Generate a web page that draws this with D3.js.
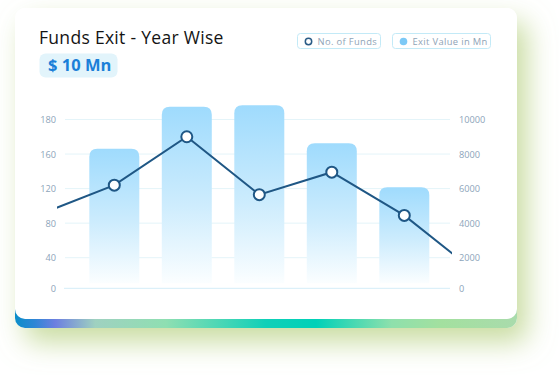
<!DOCTYPE html>
<html>
<head>
<meta charset="utf-8">
<script src="https://cdn.jsdelivr.net/npm/d3@7"></script>
<style>
  html, body { margin: 0; padding: 0; background: #ffffff; }
  svg { display: block; }
</style>
</head>
<body>
<div id="chart"></div>
<script>
// ---------------- DATA ----------------
const categories = ["2019", "2020", "2021", "2022", "2023"];
const exitValues = [8300, 10740, 10820, 8620, 6080];        // bars (right axis, Exit Value in Mn)
const fundCounts = [124, 170, 113, 139, 89];                 // line (left axis, No. of Funds)
const fundLeadIn = 91;                                       // line continues off-plot on the left
const fundLeadOut = 20;                                      // line continues off-plot on the right
const leftTickValues = [0, 40, 80, 120, 160, 180];
const leftTickLabels = ["0", "40", "80", "120", "160", "180"];
const rightTickValues = [0, 2000, 4000, 6000, 8000, 10000];
const legendLabels = ["No. of Funds", "Exit Value in Mn"];
const titleText = "Funds Exit - Year Wise";
const badgeText = "$ 10 Mn";

// ---------------- LAYOUT ----------------
const W = 559, H = 376;
const plotTop = 119.5, plotBase = 288.3, step = 34.55;
const plotLeft = 57, plotRight = 452;
const gridLeft = 65, gridRight = 450;
const font = "'Open Sans', 'DejaVu Sans', sans-serif";

const svg = d3.select("#chart").append("svg").attr("width", W).attr("height", H);
const defs = svg.append("defs");

// shadow filter
const f = defs.append("filter").attr("id", "shadow").attr("x", "-30%").attr("y", "-30%").attr("width", "160%").attr("height", "170%");
f.append("feDropShadow").attr("dx", 10).attr("dy", 14).attr("stdDeviation", 14)
  .attr("flood-color", "#bfd690").attr("flood-opacity", 0.85);

// strip gradient
const sg = defs.append("linearGradient").attr("id", "strip").attr("x1", "0").attr("x2", "1").attr("y1", "0").attr("y2", "0");
[[0, "#0a8ec9"], [0.04, "#2f86d6"], [0.08, "#6c7fe0"], [0.16, "#9fd1c0"], [0.3, "#8fdfb2"],
 [0.5, "#10d0b8"], [0.6, "#00d1b8"], [0.75, "#8ee0ac"], [0.85, "#a3e09f"], [1, "#a9dbac"]]
  .forEach(([o, c]) => sg.append("stop").attr("offset", o).attr("stop-color", c));

// bar gradient
const bg = defs.append("linearGradient").attr("id", "barGrad").attr("x1", "0").attr("x2", "0").attr("y1", "0").attr("y2", "1");
bg.append("stop").attr("offset", 0).attr("stop-color", "#9fdbfd");
bg.append("stop").attr("offset", 0.55).attr("stop-color", "#cdecfd");
bg.append("stop").attr("offset", 1).attr("stop-color", "#fbfeff");

// clip for line
defs.append("clipPath").attr("id", "plotClip").append("rect")
  .attr("x", plotLeft).attr("y", 0).attr("width", plotRight - plotLeft).attr("height", H);

// card
const cardX = 15, cardY = 8, cardW = 502, cardH = 311;
svg.append("rect").attr("x", cardX).attr("y", cardY).attr("width", cardW).attr("height", cardH + 9)
  .attr("rx", 10).attr("fill", "#ffffff").attr("filter", "url(#shadow)");
svg.append("rect").attr("x", cardX).attr("y", cardY + cardH - 40).attr("width", cardW).attr("height", 49)
  .attr("rx", 10).attr("fill", "url(#strip)");
svg.append("rect").attr("x", cardX).attr("y", cardY).attr("width", cardW).attr("height", cardH)
  .attr("rx", 10).attr("fill", "#ffffff");

// title + badge
svg.append("text").attr("x", 39).attr("y", 44).text(titleText)
  .attr("font-family", font).attr("font-size", 17.5).attr("letter-spacing", 0.3)
  .attr("font-weight", 500).attr("fill", "#141414");
svg.append("rect").attr("x", 39.5).attr("y", 53.5).attr("width", 78).attr("height", 24).attr("rx", 6).attr("fill", "#e2f4fb");
svg.append("text").attr("x", 48).attr("y", 71).text(badgeText)
  .attr("font-family", font).attr("font-size", 16.5).attr("font-weight", 700).attr("fill", "#1b7fd8");

// legend
const legendBoxes = [{x: 297.5, w: 83}, {x: 392.5, w: 98}];
legendLabels.forEach((lab, i) => {
  const b = legendBoxes[i];
  const g = svg.append("g");
  g.append("rect").attr("x", b.x).attr("y", 33.5).attr("width", b.w).attr("height", 15).attr("rx", 3)
    .attr("fill", "#ffffff").attr("stroke", "#c3eaf7").attr("stroke-width", 1);
  if (i === 0) {
    g.append("circle").attr("cx", b.x + 11).attr("cy", 41.5).attr("r", 3.2)
      .attr("fill", "#fff").attr("stroke", "#2a5b86").attr("stroke-width", 1.5);
  } else {
    g.append("circle").attr("cx", b.x + 11).attr("cy", 41.5).attr("r", 3.8).attr("fill", "#7cc9f6");
  }
  g.append("text").attr("x", b.x + 20).attr("y", 44.8).text(lab)
    .attr("font-family", font).attr("font-size", 9.4).attr("letter-spacing", 0.35).attr("fill", "#8fa3b6");
});

// ---------------- SCALES ----------------
const x = d3.scaleLinear().domain([0, categories.length - 1]).range([114.3, 404.3]);
const barW = 50;
const yR = d3.scaleLinear().domain([0, 2000, 10000]).range([plotBase, plotTop + 4 * step, plotTop]);
const yL = d3.scaleLinear().domain([0, 40, 160, 180]).range([plotBase, plotTop + 4 * step, plotTop + step, plotTop]);

// gridlines
svg.append("g").selectAll("line").data(rightTickValues).join("line")
  .attr("x1", d => d === 0 ? gridLeft - 1 : gridLeft).attr("x2", gridRight)
  .attr("y1", d => yR(d)).attr("y2", d => yR(d))
  .attr("stroke", d => d === 0 ? "#d4edf8" : "#e4f4f9").attr("stroke-width", 1);

// axes
const axL = svg.append("g").attr("transform", "translate(56,0)")
  .call(d3.axisLeft(yL).tickValues(leftTickValues).tickSize(0).tickPadding(0)
    .tickFormat((d, i) => leftTickLabels[i]));
const axR = svg.append("g").attr("transform", "translate(459,0)")
  .call(d3.axisRight(yR).tickValues(rightTickValues).tickSize(0).tickPadding(0).tickFormat(d3.format("d")));
[axL, axR].forEach(a => {
  a.select(".domain").remove();
  a.selectAll("text").attr("font-family", font).attr("font-size", 9.2).attr("fill", "#8da5ba").attr("dy", "0.33em");
});

// bars
const radius = 8;
svg.append("g").selectAll("path").data(exitValues).join("path")
  .attr("d", (d, i) => {
    const x0 = x(i) - barW / 2, x1 = x(i) + barW / 2;
    const yt = yR(d), yb = yR(0) - 5;
    return `M${x0},${yb} L${x0},${yt + radius} Q${x0},${yt} ${x0 + radius},${yt} L${x1 - radius},${yt} Q${x1},${yt} ${x1},${yt + radius} L${x1},${yb} Z`;
  })
  .attr("fill", "url(#barGrad)");

// line
const linePts = [[-1, fundLeadIn]].concat(fundCounts.map((v, i) => [i, v]), [[fundCounts.length, fundLeadOut]]);
svg.append("path").datum(linePts)
  .attr("clip-path", "url(#plotClip)")
  .attr("d", d3.line().x(d => x(d[0])).y(d => yL(d[1])))
  .attr("fill", "none").attr("stroke", "#1f5785").attr("stroke-width", 2);

svg.append("g").selectAll("circle").data(fundCounts).join("circle")
  .attr("cx", (d, i) => x(i)).attr("cy", d => yL(d)).attr("r", 5.5)
  .attr("fill", "#ffffff").attr("stroke", "#1f5785").attr("stroke-width", 2);
</script>
</body>
</html>
